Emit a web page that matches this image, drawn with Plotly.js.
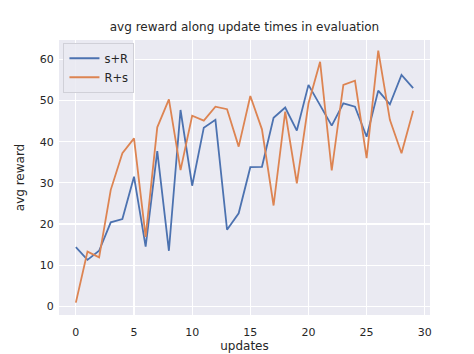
<!DOCTYPE html>
<html>
<head>
<meta charset="utf-8">
<script src="https://cdn.plot.ly/plotly-3.0.1.min.js"></script>
<style>html,body{margin:0;padding:0;background:#fff;}#chart{width:474px;height:354px;}</style>
</head>
<body>
<div id="chart"></div>
<script>
const updates = [0,1,2,3,4,5,6,7,8,9,10,11,12,13,14,15,16,17,18,19,20,21,22,23,24,25,26,27,28,29];
const sPlusR = [14.4,11.3,13.5,20.4,21.2,31.5,14.5,37.7,13.5,47.7,29.3,43.4,45.3,18.6,22.6,33.8,33.9,45.8,48.3,42.7,53.8,48.9,43.9,49.3,48.5,41.2,52.4,49.1,56.2,53.0];
const rPlusS = [0.9,13.3,11.9,28.3,37.2,40.8,16.9,43.5,50.3,33.1,46.3,45.1,48.5,47.9,38.8,51.1,43.0,24.5,47.3,29.9,49.3,59.4,33.0,53.8,54.8,36.0,62.1,45.3,37.2,47.5];
const seriesNames = ['s+R', 'R+s'];
const xTicks = [0,5,10,15,20,25,30];
const yTicks = [0,10,20,30,40,50,60];

const font = {family: 'DejaVu Sans, sans-serif', color: '#262626'};
const traces = [
  {x: updates, y: sPlusR, name: seriesNames[0], type: 'scatter', mode: 'lines',
   line: {color: '#4C72B0', width: 1.8}},
  {x: updates, y: rPlusS, name: seriesNames[1], type: 'scatter', mode: 'lines',
   line: {color: '#DD8452', width: 1.8}}
];
const layout = {
  width: 474, height: 354,
  margin: {l: 59, r: 44, t: 40, b: 39},
  paper_bgcolor: '#ffffff', plot_bgcolor: '#EAEAF2',
  font: Object.assign({size: 11}, font),
  title: {text: 'avg reward along update times in evaluation', x: 0.5, xref: 'paper',
          y: 1 - 27/354, yanchor: 'middle', font: Object.assign({size: 12}, font)},
  xaxis: {range: [-1.45, 30.45], tickvals: xTicks, ticktext: xTicks.map(String),
          showgrid: true, gridcolor: '#ffffff', gridwidth: 1.2, zeroline: false,
          showline: false, ticks: 'outside', ticklen: 7, tickcolor: 'rgba(0,0,0,0)',
          tickfont: Object.assign({size: 11}, font),
          title: {text: 'updates', font: Object.assign({size: 12}, font), standoff: 3}},
  yaxis: {range: [-2.1, 64.7], tickvals: yTicks, ticktext: yTicks.map(String),
          showgrid: true, gridcolor: '#ffffff', gridwidth: 1.2, zeroline: false,
          showline: false, ticks: 'outside', ticklen: 2, tickcolor: 'rgba(0,0,0,0)',
          tickfont: Object.assign({size: 11}, font),
          title: {text: 'avg reward', font: Object.assign({size: 12}, font), standoff: 12}},
  showlegend: true,
  legend: {x: 0.012, y: 0.99, xanchor: 'left', yanchor: 'top',
           bgcolor: 'rgba(234,234,242,0.85)', bordercolor: '#d0d0d8', borderwidth: 1,
           itemwidth: 30,
           font: Object.assign({size: 11.5}, font), tracegroupgap: 0}
};
Plotly.newPlot('chart', traces, layout, {displayModeBar: false, staticPlot: true});
</script>
</body>
</html>
